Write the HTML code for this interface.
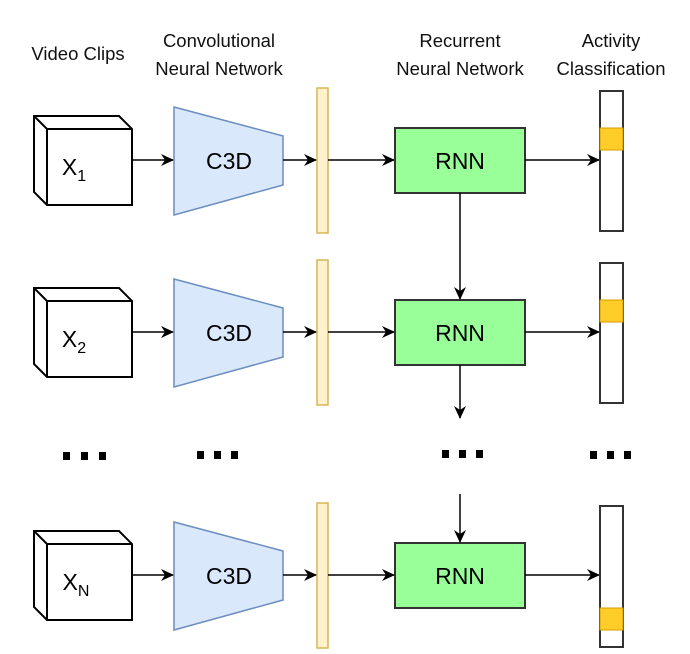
<!DOCTYPE html>
<html><head><style>body{margin:0;background:#fff}svg{display:block}</style></head><body>
<svg width="690" height="654" viewBox="0 0 690 654" xmlns="http://www.w3.org/2000/svg" font-family="Liberation Sans, sans-serif">
<defs>
<marker id="a" markerWidth="13" markerHeight="12" refX="12" refY="6" orient="auto" markerUnits="userSpaceOnUse"><path d="M0,0 L13,6 L0,12 L4,6 Z" fill="#000"/></marker>
</defs>
<g font-size="18.5" text-anchor="middle" fill="#111">
<text x="78" y="60">Video Clips</text>
<text x="219" y="47">Convolutional</text><text x="219" y="75">Neural Network</text>
<text x="460" y="47">Recurrent</text><text x="460" y="75">Neural Network</text>
<text x="611" y="47">Activity</text><text x="611" y="75">Classification</text>
</g>
<g id="r1">
<path d="M34,116 L119,116 L132,129 L132,205 L47,205 L34,192 Z M34,116 L47,129 L132,129 M47,129 L47,205" fill="#fff" stroke="#000" stroke-width="2"/>
<path d="M174,107 L283,136 L283,185 L174,215 Z" fill="#dae8fc" stroke="#6c8ebf" stroke-width="1.5"/>
<text x="229" y="169" font-size="23" text-anchor="middle">C3D</text>
<rect x="317" y="88" width="11" height="145" fill="#fff2cc" stroke="#d6b656" stroke-width="1.5"/>
<rect x="395" y="128" width="130" height="65" fill="#99ff99" stroke="#333" stroke-width="2"/>
<text x="460" y="169" font-size="23" text-anchor="middle">RNN</text>
<line x1="132" y1="160" x2="173" y2="160" stroke="#000" stroke-width="1.5" marker-end="url(#a)"/>
<line x1="283" y1="160" x2="316" y2="160" stroke="#000" stroke-width="1.5" marker-end="url(#a)"/>
<line x1="328" y1="160" x2="394" y2="160" stroke="#000" stroke-width="1.5" marker-end="url(#a)"/>
<line x1="525" y1="160" x2="599" y2="160" stroke="#000" stroke-width="1.5" marker-end="url(#a)"/>
</g>
<text x="74" y="175" font-size="23" text-anchor="middle">X<tspan font-size="16" dy="6">1</tspan></text>
<rect x="600" y="91" width="23" height="140" fill="#fff" stroke="#333" stroke-width="2"/>
<rect x="600" y="128" width="23" height="22" fill="#ffcd28" stroke="#d79b00" stroke-width="1"/>

<use href="#r1" y="172"/>
<text x="74" y="347" font-size="23" text-anchor="middle">X<tspan font-size="16" dy="6">2</tspan></text>
<rect x="600" y="263" width="23" height="140" fill="#fff" stroke="#333" stroke-width="2"/>
<rect x="600" y="300" width="23" height="22" fill="#ffcd28" stroke="#d79b00" stroke-width="1"/>

<use href="#r1" y="415"/>
<text x="76" y="590" font-size="23" text-anchor="middle">X<tspan font-size="16" dy="6">N</tspan></text>
<rect x="600" y="506" width="23" height="141" fill="#fff" stroke="#333" stroke-width="2"/>
<rect x="600" y="608" width="23" height="22" fill="#ffcd28" stroke="#d79b00" stroke-width="1"/>

<line x1="460" y1="193" x2="460" y2="299" stroke="#000" stroke-width="1.5" marker-end="url(#a)"/>
<line x1="460" y1="365" x2="460" y2="418" stroke="#000" stroke-width="1.5" marker-end="url(#a)"/>
<line x1="460" y1="494" x2="460" y2="542" stroke="#000" stroke-width="1.5" marker-end="url(#a)"/>
<g fill="#000">
<rect x="63" y="452" width="7" height="8"/><rect x="81" y="452" width="7" height="8"/><rect x="99" y="452" width="7" height="8"/>
<rect x="197" y="451" width="7" height="8"/><rect x="214" y="451" width="7" height="8"/><rect x="231" y="451" width="7" height="8"/>
<rect x="442" y="450" width="7" height="8"/><rect x="459" y="450" width="7" height="8"/><rect x="476" y="450" width="7" height="8"/>
<rect x="590" y="451" width="7" height="8"/><rect x="607" y="451" width="7" height="8"/><rect x="624" y="451" width="7" height="8"/>
</g>
</svg>
</body></html>
